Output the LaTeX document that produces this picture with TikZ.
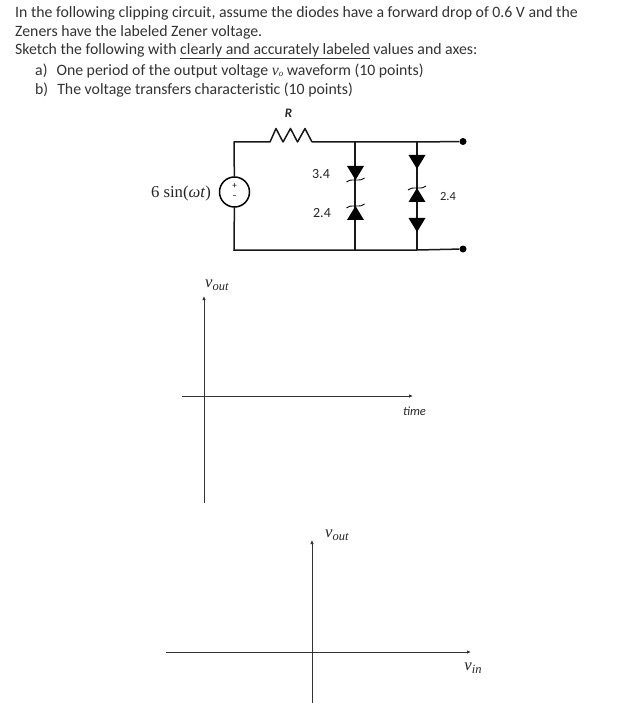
\documentclass[tikz,border=0pt]{standalone}
\usepackage{fontspec}
\setmainfont{Carlito}
\usetikzlibrary{arrows.meta}
\newfontfamily\serifm{Liberation Serif}
\tikzset{
  x=1pt,y=-1pt,
  line/.style={draw=black!90,line width=1.5pt},
  axis/.style={draw=black!80,line width=0.8pt,-{Latex[length=4pt,width=3.5pt]}},
  txt/.style={anchor=west,inner sep=0pt,font=\fontsize{15.8}{18}\selectfont,text=black!80},
  lab/.style={inner sep=0pt,font=\fontsize{14}{16}\selectfont,text=black!85},
  small/.style={inner sep=0pt,font=\fontsize{12.5}{14}\selectfont,text=black!85},
  mth/.style={inner sep=0pt,font=\serifm\fontsize{16.7}{18}\selectfont,text=black!85},
  dot/.style={circle,fill=black,inner sep=0pt,minimum size=7pt},
  src/.style={circle,draw=black,line width=1.5pt,fill=white,minimum size=30pt,inner sep=0pt},
}
\newcommand{\tridown}[3]{\fill[black] (#1-8.5,#2) -- (#1+8.5,#2) -- (#1,#3) -- cycle;}
\newcommand{\zbar}[2]{\draw[black,line width=0.9pt] (#1-9,#2+2) .. controls (#1-6,#2) .. (#1,#2) .. controls (#1+6,#2) .. (#1+9,#2-2);}
\newcommand{\vsub}[1]{\textit{v}\raisebox{-2.5pt}{\fontsize{12.5}{14}\selectfont\textit{#1}}}
\begin{document}
\begin{tikzpicture}
\useasboundingbox (0,0) rectangle (619,703);
\fill[white] (0,0) rectangle (619,703);
% text
\node[txt] (t1) at (15,13) {In the following clipping circuit, assume the diodes have a forward drop of 0.6 V and the};
\node[txt] (t2) at (15,32) {Zeners have the labeled Zener voltage.};
\node[txt] (t3) at (15,51) {Sketch the following with \underline{clearly and accurately labeled} values and axes:};
\node[txt] (t4) at (35,71) {a)\hspace{9pt}One period of the output voltage {\serifm\itshape v\raisebox{-1.5pt}{\fontsize{9}{10}\selectfont o}} waveform (10 points)};
\node[txt] (t5) at (35,90) {b)\hspace{9pt}The voltage transfers characteristic (10 points)};
% circuit
\coordinate (tl) at (234,142);
\coordinate (bl) at (234,250);
\coordinate (ra) at (270,142);
\coordinate (rb) at (312,142);
\coordinate (n1t) at (355,142);
\coordinate (n2t) at (417,142);
\coordinate (n1b) at (355,250);
\coordinate (n2b) at (417,250);
\node[dot] (dt) at (463,141.5) {};
\node[dot] (db) at (463,249) {};
\node[src] (vs) at (234.5,192) {};
\node[inner sep=0pt,font=\fontsize{9}{10}\selectfont] (vp) at (234.5,186) {+};
\node[inner sep=0pt,font=\fontsize{9}{10}\selectfont] (vm) at (234.5,197.5) {–};
\draw[line,line join=round] (vs) -- (tl) -- (ra)
  -- (276,128.5) -- (283,142) -- (290.5,128.5) -- (297.5,142) -- (305,128.5) -- (rb);
\draw[line] (rb) -- (n1t) -- (n2t) -- (dt);
\draw[line] (vs) -- (bl) -- (n1b) -- (n2b) -- (db);
\draw[line] (n1t) -- (n1b);
\draw[line] (n2t) -- (n2b);
\tridown{355.5}{166}{180}
\zbar{355.5}{180}
\tridown{355.5}{220}{206}
\zbar{355.5}{206}
\tridown{417}{155}{169}
\tridown{417}{202}{188}
\zbar{417}{188}
\tridown{417}{218}{232}
\node[lab,font=\bfseries\itshape\fontsize{13}{15}\selectfont] (rl) at (288.5,113) {R};
\node[lab] (l34) at (321,174) {3.4};
\node[lab] (l24) at (322,213) {2.4};
\node[small] (l24r) at (448,196) {2.4};
\node[mth] (src) at (181,193) {6 sin(\textit{ωt})};
% axes 1
\coordinate (a1b) at (204,503);
\coordinate (a1t) at (204,296);
\coordinate (a1l) at (182,396);
\coordinate (a1r) at (413,396);
\draw[axis] (a1b) -- (a1t);
\draw[axis] (a1l) -- (a1r);
\node[mth] (vo1) at (217,285) {\vsub{out}};
\node[small,font=\itshape\fontsize{12.5}{14}\selectfont] (tm) at (414.5,411) {time};
% axes 2
\coordinate (a2b) at (312,703);
\coordinate (a2t) at (312,540);
\coordinate (a2l) at (166,652);
\coordinate (a2r) at (471,652);
\draw[axis] (a2b) -- (a2t);
\draw[axis] (a2l) -- (a2r);
\node[mth] (vo2) at (337,535) {\vsub{out}};
\node[mth] (vi) at (473,668) {\vsub{in}};
\end{tikzpicture}
\end{document}
